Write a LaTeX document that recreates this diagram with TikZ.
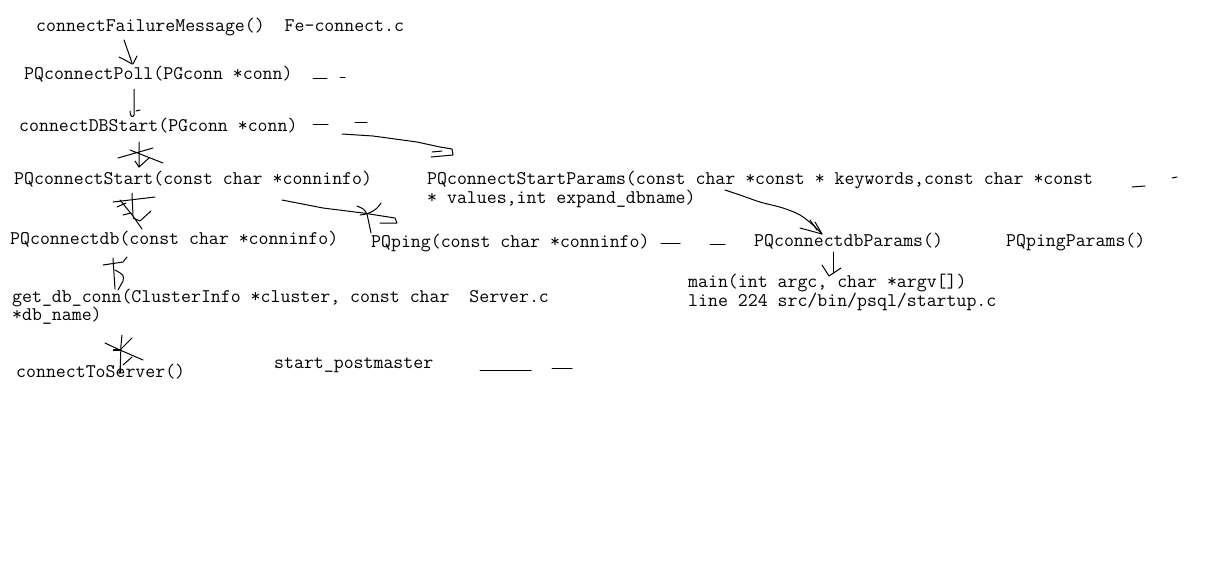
\documentclass[tikz,border=0pt]{standalone}
\usepackage{fontspec}
\usetikzlibrary{arrows.meta}
\tikzset{
  txt/.style={anchor=base west, inner sep=0pt, font=\ttfamily\fontsize{19.3}{21}\selectfont, text=black},
  ink/.style={line width=1pt, line cap=round, line join=round, black},
}
\begin{document}
\begin{tikzpicture}[x=1pt,y=-1pt]
\useasboundingbox (0,0) rectangle (1209,579);
\fill[white] (0,0) rectangle (1209,579);
% texts
\node[txt] (cfm) at (36,31) {connectFailureMessage()\ \ Fe-connect.c};
\node[txt] (poll) at (24,79) {PQconnectPoll(PGconn *conn)};
\node[txt] (dbstart) at (19,131) {connectDBStart(PGconn *conn)};
\node[txt] (cstart) at (14,184) {PQconnectStart(const char *conninfo)};
\node[txt] (csp) at (427,184) {PQconnectStartParams(const char *const * keywords,const char *const};
\node[txt] (csp2) at (427,203) {* values,int expand\_dbname)};
\node[txt] (cdb) at (10,244) {PQconnectdb(const char *conninfo)};
\node[txt] (ping) at (371,247) {PQping(const char *conninfo)};
\node[txt] (cdbp) at (754,246) {PQconnectdbParams()};
\node[txt] (pingp) at (1006,246) {PQpingParams()};
\node[txt] (main) at (688,287) {main(int argc, char *argv[])};
\node[txt] (main2) at (688,306) {line 224 src/bin/psql/startup.c};
\node[txt] (getdb) at (12,302) {get\_db\_conn(ClusterInfo *cluster, const char\ \ Server.c};
\node[txt] (getdb2) at (12,320) {*db\_name)};
\node[txt] (cts) at (16,377) {connectToServer()};
\node[txt] (spm) at (274,368) {start\_postmaster};
% dash marks
\draw[ink] (313,78)--(327,78) (340,77)--(345,77);
\draw[ink] (313,124)--(328,124) (355,122.5)--(367,122.5);
\draw[ink] (1132,187)--(1145,186) (1172,178)--(1177,177);
\draw[ink] (661,243)--(680,243) (710,244)--(725,244);
\draw[ink] (480,370)--(531,370) (552,368)--(572,368);
% arrow 1
\draw[ink] (124,40) -- (130,57) -- (132,63);
\draw[ink] (119,57) -- (125,60) -- (132,64) (137,56) -- (133,64);
% arrow 2
\draw[ink] (134,89) -- (134,115) .. controls (133,118) and (130,117) .. (130,111);
\draw[ink] (136,111) -- (140,110);
% crossed arrow to PQconnectStart
\draw[ink] (139,142) -- (139,167) -- (149,158);
\draw[ink] (135,161) -- (139,167);
\draw[ink] (118,158) -- (153,148) (130,150) -- (163,163);
% arrow connectDBStart -> PQconnectStartParams
\draw[ink] (342,134) -- (373,136) -- (417,142) -- (440,147) -- (452,149) -- (453,155) -- (431,157);
\draw[ink] (432,152) -- (442,151);
% crossed arrow below PQconnectStart
\draw[ink] (132,193) -- (133,216) -- (142,229);
\draw[ink] (113,202) -- (155,197);
\draw[ink] (117,207) -- (126,203);
\draw[ink] (120,200) -- (133,216);
\draw[ink] (123,215) -- (131,213);
\draw[ink] (133,218) -- (140,221) -- (151,211);
% arrow PQconnectStart -> PQping (crossed)
\draw[ink] (282,200) -- (323,208) -- (363,213) -- (395,218) -- (397,223) -- (380,223);
\draw[ink] (357,206) .. controls (364,209) .. (367,214) -- (371,233);
\draw[ink] (360,215) .. controls (372,214) and (378,208) .. (381,203);
% arrow PQconnectStartParams -> PQconnectdbParams
\draw[ink] plot[smooth] coordinates {(725,190) (740,195) (760,202) (783,208) (800,215) (813,225) (822,234)};
\draw[ink] (800,228) -- (822,234) (810,220) -- (817,230) (815,222) -- (822,234);
% arrow PQconnectdbParams -> main
\draw[ink] (833,252) -- (833,273);
\draw[ink] (822,265) -- (829,276) -- (841,268);
% crossed arrow PQconnectdb -> get_db_conn
\draw[ink] (113,258) -- (115,289);
\draw[ink] (103,265) -- (123,262) -- (127,257);
\draw[ink] (115,270) .. controls (124,275) .. (123,281) -- (118,290);
% crossed arrow to connectToServer
\draw[ink] (122,335) -- (121,345) -- (120,373);
\draw[ink, -{Stealth[length=4pt,width=3pt]}] (120,366) -- (120,374);
\draw[ink] (105,343) -- (120,350) -- (132,338);
\draw[line width=2.2pt,black] (113,350) -- (120,350);
\draw[ink] (120,350) -- (143,360) (132,357) -- (123,365);
\end{tikzpicture}
\end{document}
